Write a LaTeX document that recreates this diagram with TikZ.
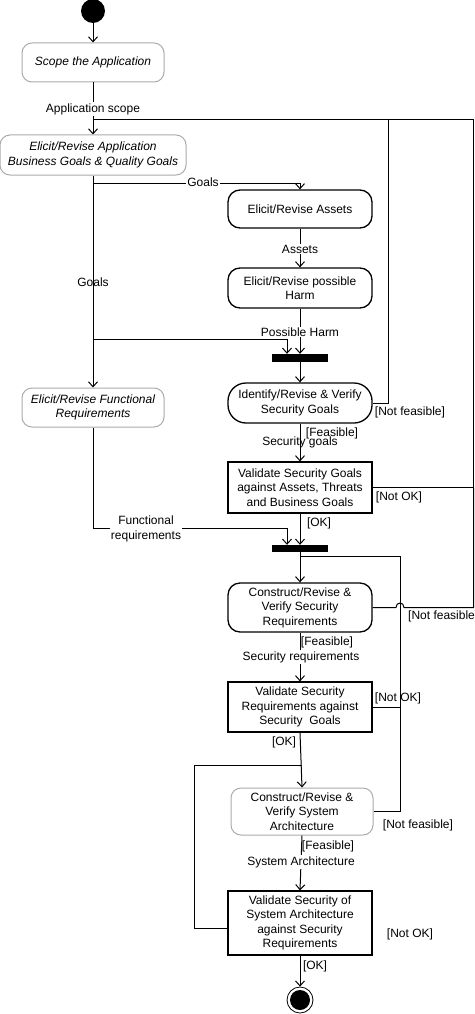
\documentclass[tikz,border=0pt]{standalone}
\usepackage{fontspec}
\setmainfont{Liberation Sans}
\usetikzlibrary{arrows.meta}
\newcommand{\diagfont}{\fontsize{12}{14.5}\selectfont}
\tikzset{
  ln/.style={line width=1pt},
  flow/.style={ln, -{Straight Barb[length=5pt,width=9pt]}},
  gbox/.style={draw=gray!65, line width=1pt, rounded corners=10pt, align=center, inner sep=0pt,
    font=\diagfont\itshape, minimum width=142pt, minimum height=39pt},
  bbox/.style={draw, line width=1.3pt, rounded corners=12pt, align=center, inner sep=0pt, minimum width=144pt},
  vbox/.style={draw, line width=1.2pt, align=center, inner sep=0pt, minimum width=144pt},
  jbar/.style={fill=black, inner sep=0pt, minimum width=56pt, minimum height=8pt},
  lbl/.style={inner sep=1pt, align=center},
  wlbl/.style={lbl, fill=white},
}
\begin{document}
\begin{tikzpicture}[x=1pt,y=-1pt, every node/.append style={font=\diagfont}]
\fill[white] (0,0) rectangle (474,1014);
\useasboundingbox (0,0) rectangle (474,1014);
% nodes
\node[circle, fill, inner sep=0pt, minimum size=24pt] (start) at (93,11) {};
\node[gbox] (scope) at (93,62.5) {Scope the Application};
\node[gbox, minimum width=186pt, minimum height=40pt] (elicit) at (93,155) {Elicit/Revise Application\\Business Goals \& Quality Goals};
\node[bbox, minimum height=38pt] (assets) at (300,209) {Elicit/Revise Assets};
\node[bbox, minimum height=40pt] (harm) at (300,288) {Elicit/Revise possible\\Harm};
\node[jbar] (bar1) at (300,358) {};
\node[bbox, minimum height=40pt, rounded corners=18pt] (ident) at (300,403) {Identify/Revise \& Verify\\Security Goals};
\node[gbox] (func) at (93,407.5) {Elicit/Revise Functional\\Requirements};
\node[vbox, minimum height=51pt] (valg) at (300,487.5) {Validate Security Goals\\against Assets, Threats\\and Business Goals};
\node[jbar, minimum height=7pt] (bar2) at (300,548.5) {};
\node[bbox, minimum height=49pt] (consreq) at (300,607.5) {Construct/Revise \&\\Verify Security\\Requirements};
\node[vbox, minimum height=50pt] (valreq) at (300,707) {Validate Security\\Requirements against\\Security\ \ Goals};
\node[gbox, font=\diagfont, minimum height=47pt] (consarch) at (302,811.5) {Construct/Revise \&\\Verify System\\Architecture};
\node[vbox, minimum height=64pt] (valarch) at (300,923) {Validate Security of\\System Architecture\\against Security\\Requirements};
\node[circle, draw, line width=0.8pt, inner sep=0pt, minimum size=26pt] (end) at (300,1000) {};
\fill (end.center) circle (10pt);
% junction coordinates
\coordinate (m1) at (93,120);
\coordinate (r1) at (388,120);
\coordinate (r2) at (473.5,120);
\coordinate (g1) at (93,183);
\coordinate (g2) at (93,339);
\coordinate (f1) at (93,528);
\coordinate (j2) at (300,556);
\coordinate (l2) at (400,556);
\coordinate (a1) at (302,765);
\coordinate (a2) at (194,765);
% connectors
\draw[flow] (start) -- (scope);
\draw[flow] (scope.south) -- (elicit.north);
\draw[ln] (ident.east) -| (r1) -- (m1);
\draw[ln] (valg.east) -| (r2) -- (r1);
\draw[ln] (consreq.east) -- (396,607.5) .. controls (396,601.5) and (404,601.5) .. (404,607.5) -- (473.5,607.5) -- (473.5,487.5);
\draw[flow] (elicit.south) -- (func.north);
\draw[flow] (g1) -| (assets.north);
\draw[flow] (assets) -- (harm);
\draw[flow] (harm) -- (bar1);
\draw[flow] (g2) -| ([xshift=-13pt]bar1.north);
\draw[flow] (bar1) -- (ident);
\draw[flow] (ident) -- (valg);
\draw[flow] (valg) -- (bar2);
\draw[flow] (func.south) -- (f1) -| ([xshift=-13pt]bar2.north);
\draw[flow] (bar2) -- (consreq);
\draw[ln] (consarch.east) -| (l2) -- (j2);
\draw[ln] (valreq.east) -- (valreq.east -| l2);
\draw[flow] (consreq) -- (valreq);
\draw[flow] (valreq.south) -- (consarch.north);
\draw[ln] ([yshift=-5pt]valarch.west) -| (a2) -- (a1);
\draw[flow] (consarch.south) -- (valarch.north);
\draw[flow] (valarch) -- (end);
% labels
\node[wlbl] (t1) at (93,109) {Application scope};
\node[wlbl] (t2) at (203,182) {Goals};
\node[lbl] (t3) at (93,282) {Goals};
\node[wlbl] (t4) at (300,249) {Assets};
\node[wlbl] (t5) at (300,332) {Possible Harm};
\node[lbl] (t6) at (410,412) {[Not feasible]};
\node[lbl] (t7) at (332,433) {[Feasible]};
\node[lbl] (t8) at (300,442) {Security goals};
\node[lbl] (t9) at (399,497) {[Not OK]};
\node[lbl] (t10) at (319,523) {[OK]};
\node[wlbl] (t11) at (146,529) {Functional\\requirements};
\node[lbl, anchor=west] (t12) at (407,616) {[Not feasible]};
\node[lbl] (t13) at (327,642) {[Feasible]};
\node[wlbl] (t14) at (301,657) {Security requirements};
\node[lbl] (t15) at (398,698) {[Not OK]};
\node[lbl] (t16) at (284,742) {[OK]};
\node[lbl] (t17) at (418,825) {[Not feasible]};
\node[lbl] (t18) at (328,846) {[Feasible]};
\node[wlbl] (t19) at (301,862) {System Architecture};
\node[lbl] (t20) at (410,934) {[Not OK]};
\node[lbl] (t21) at (315,966) {[OK]};
\end{tikzpicture}
\end{document}
